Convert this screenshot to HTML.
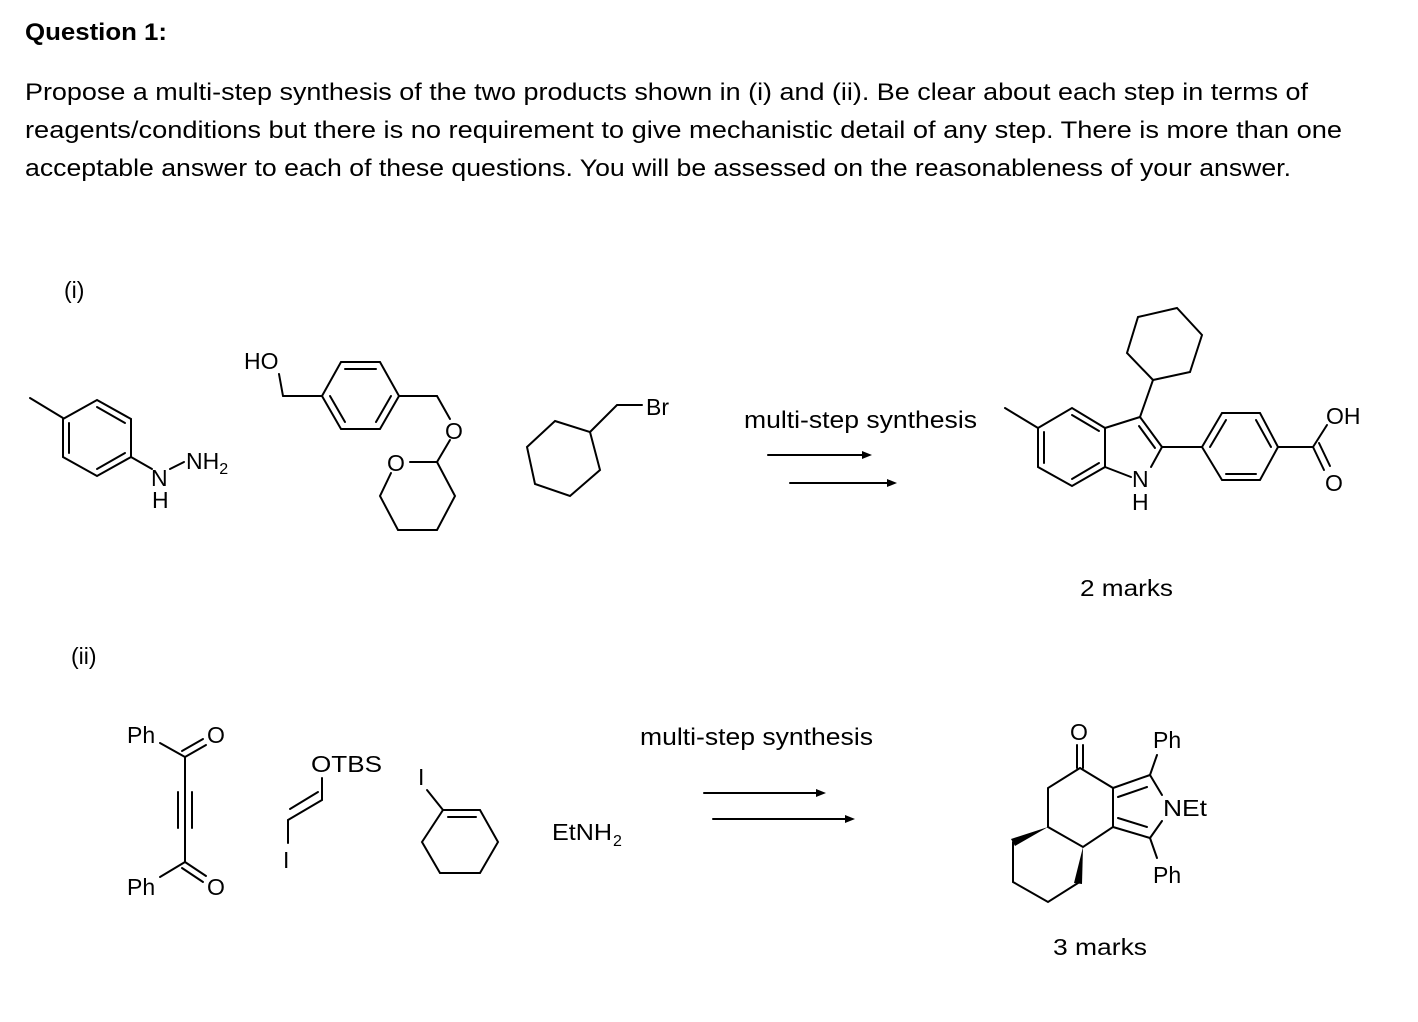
<!DOCTYPE html>
<html><head><meta charset="utf-8"><style>
html,body{margin:0;padding:0;background:#fff;}
svg{display:block;}
text{font-family:"Liberation Sans",sans-serif;fill:#000;}
.b{font-size:24px;}
</style></head><body>
<svg width="1418" height="1022" viewBox="0 0 1418 1022" xmlns="http://www.w3.org/2000/svg">
<text x="25" y="40" font-size="24" font-weight="bold" textLength="142" lengthAdjust="spacingAndGlyphs">Question 1:</text>
<text class="b" x="25" y="100" textLength="1283" lengthAdjust="spacingAndGlyphs">Propose a multi-step synthesis of the two products shown in (i) and (ii). Be clear about each step in terms of</text>
<text class="b" x="25" y="138" textLength="1317" lengthAdjust="spacingAndGlyphs">reagents/conditions but there is no requirement to give mechanistic detail of any step. There is more than one</text>
<text class="b" x="25" y="176" textLength="1266" lengthAdjust="spacingAndGlyphs">acceptable answer to each of these questions. You will be assessed on the reasonableness of your answer.</text>

<text x="64" y="298" font-size="23">(i)</text>
<text x="71" y="664" font-size="23">(ii)</text>

<g stroke="#000" stroke-width="2" fill="none" stroke-linecap="round">
<line x1="30" y1="398" x2="63" y2="418"/>
<polygon points="97,400 131,419 131,457 97,476 63,457 63,419"/>
<line x1="97" y1="407" x2="125" y2="423"/>
<line x1="69" y1="423" x2="69" y2="453"/>
<line x1="97" y1="469" x2="125" y2="453"/>
<line x1="131" y1="457" x2="152" y2="469"/>
<line x1="170" y1="469" x2="184" y2="462"/>
<line x1="279" y1="374" x2="283" y2="396"/>
<line x1="283" y1="396" x2="322" y2="396"/>
<polygon points="322,396 341,362 380,362 399,396 380,429 341,429"/>
<line x1="345" y1="369" x2="376" y2="369"/>
<line x1="391" y1="396" x2="376" y2="422"/>
<line x1="330" y1="396" x2="345" y2="422"/>
<line x1="399" y1="396" x2="437" y2="396"/>
<line x1="437" y1="396" x2="450" y2="419"/>
<line x1="450" y1="440" x2="437" y2="462"/>
<line x1="437" y1="462" x2="410" y2="462"/>
<polyline points="437,462 455,496 437,530 398,530 380,496 391,473"/>
<polygon points="555,421 590,432 600,470 570,496 535,484 527,447"/>
<polyline points="590,432 617,405 642,405"/>
<line x1="768" y1="455" x2="862" y2="455"/>
<line x1="790" y1="483" x2="887" y2="483"/>
<polygon points="1138,317 1177,308 1202,335 1190,372 1153,380 1127,353"/>
<line x1="1153" y1="380" x2="1140" y2="417"/>
<line x1="1005" y1="408" x2="1038" y2="428"/>
<polygon points="1038,428 1072,408 1105,428 1105,467 1072,486 1038,467"/>
<line x1="1044" y1="432" x2="1044" y2="463"/>
<line x1="1072" y1="415" x2="1099" y2="431"/>
<line x1="1072" y1="479" x2="1099" y2="463"/>
<line x1="1105" y1="428" x2="1140" y2="417"/>
<line x1="1140" y1="417" x2="1162" y2="447"/>
<line x1="1139" y1="426" x2="1155" y2="448"/>
<line x1="1105" y1="467" x2="1131" y2="477"/>
<line x1="1162" y1="447" x2="1151" y2="467"/>
<line x1="1162" y1="447" x2="1202" y2="447"/>
<polygon points="1202,447 1222,413 1260,413 1278,447 1260,480 1222,480"/>
<line x1="1210" y1="447" x2="1226" y2="420"/>
<line x1="1256" y1="420" x2="1271" y2="447"/>
<line x1="1226" y1="474" x2="1256" y2="474"/>
<line x1="1278" y1="447" x2="1313" y2="447"/>
<line x1="1313" y1="447" x2="1327" y2="425"/>
<line x1="1313" y1="447" x2="1324" y2="470"/>
<line x1="1319" y1="443" x2="1330" y2="466"/>
<line x1="160" y1="743" x2="185" y2="757"/>
<line x1="185" y1="757" x2="206" y2="745"/>
<line x1="182" y1="751" x2="203" y2="739"/>
<line x1="185" y1="757" x2="185" y2="862"/>
<line x1="178" y1="792" x2="178" y2="828"/>
<line x1="192" y1="792" x2="192" y2="828"/>
<line x1="185" y1="862" x2="160" y2="877"/>
<line x1="185" y1="862" x2="206" y2="876"/>
<line x1="182" y1="868" x2="203" y2="882"/>
<line x1="322" y1="778" x2="322" y2="800"/>
<line x1="322" y1="800" x2="288" y2="820"/>
<line x1="318" y1="792" x2="290" y2="809"/>
<line x1="288" y1="820" x2="288" y2="843"/>
<line x1="427" y1="790" x2="443" y2="810"/>
<polygon points="443,810 480,810 498,842 480,873 440,873 422,842"/>
<line x1="448" y1="817" x2="476" y2="817"/>
<line x1="704" y1="793" x2="816" y2="793"/>
<line x1="713" y1="819" x2="845" y2="819"/>
<line x1="1077" y1="745" x2="1077" y2="768"/>
<line x1="1083" y1="745" x2="1083" y2="768"/>
<polyline points="1080,768 1113,788 1113,827 1083,847 1048,827 1048,788 1080,768"/>
<line x1="1113" y1="788" x2="1150" y2="775"/>
<line x1="1118" y1="797" x2="1147" y2="787"/>
<line x1="1150" y1="775" x2="1162" y2="795"/>
<line x1="1162" y1="821" x2="1150" y2="838"/>
<line x1="1150" y1="838" x2="1113" y2="827"/>
<line x1="1147" y1="827" x2="1118" y2="818"/>
<line x1="1150" y1="775" x2="1157" y2="755"/>
<line x1="1150" y1="838" x2="1157" y2="858"/>
<polyline points="1013,842 1013,882 1048,902 1078,883"/>
</g>
<g fill="#000">
<polygon points="862,451 872,455 862,459"/>
<polygon points="887,479 897,483 887,487"/>
<polygon points="816,789 826,793 816,797"/>
<polygon points="845,815 855,819 845,823"/>
<polygon points="1048,827 1011,839 1015,846"/>
<polygon points="1083,847 1074,883 1082,884"/>
</g>

<g>
<text x="151" y="486" font-size="23">N</text>
<text x="152" y="508" font-size="23">H</text>
<text x="186" y="469" font-size="23">NH<tspan font-size="16" dy="5">2</tspan></text>
<text x="244" y="369" font-size="23">HO</text>
<text x="445" y="439" font-size="23">O</text>
<text x="387" y="471" font-size="23">O</text>
<text x="646" y="415" font-size="23">Br</text>
<text x="744" y="428" font-size="24" textLength="233" lengthAdjust="spacingAndGlyphs">multi-step synthesis</text>
<text x="1132" y="487" font-size="23">N</text>
<text x="1132" y="510" font-size="23">H</text>
<text x="1326" y="424" font-size="23">OH</text>
<text x="1325" y="491" font-size="23">O</text>
<text x="1080" y="596" font-size="23" textLength="93" lengthAdjust="spacingAndGlyphs">2 marks</text>
<text x="127" y="743" font-size="23">Ph</text>
<text x="207" y="743" font-size="23">O</text>
<text x="127" y="895" font-size="23">Ph</text>
<text x="207" y="895" font-size="23">O</text>
<text x="311" y="772" font-size="23" textLength="71" lengthAdjust="spacingAndGlyphs">OTBS</text>
<text x="283" y="868" font-size="23">I</text>
<text x="418" y="785" font-size="23">I</text>
<text x="552" y="840" font-size="23" textLength="60" lengthAdjust="spacingAndGlyphs">EtNH</text>
<text x="613" y="846" font-size="16">2</text>
<text x="640" y="745" font-size="24" textLength="233" lengthAdjust="spacingAndGlyphs">multi-step synthesis</text>
<text x="1070" y="740" font-size="23">O</text>
<text x="1153" y="748" font-size="23">Ph</text>
<text x="1163" y="816" font-size="23" textLength="44" lengthAdjust="spacingAndGlyphs">NEt</text>
<text x="1153" y="883" font-size="23">Ph</text>
<text x="1053" y="955" font-size="23" textLength="94" lengthAdjust="spacingAndGlyphs">3 marks</text>
</g>
</svg>
</body></html>
